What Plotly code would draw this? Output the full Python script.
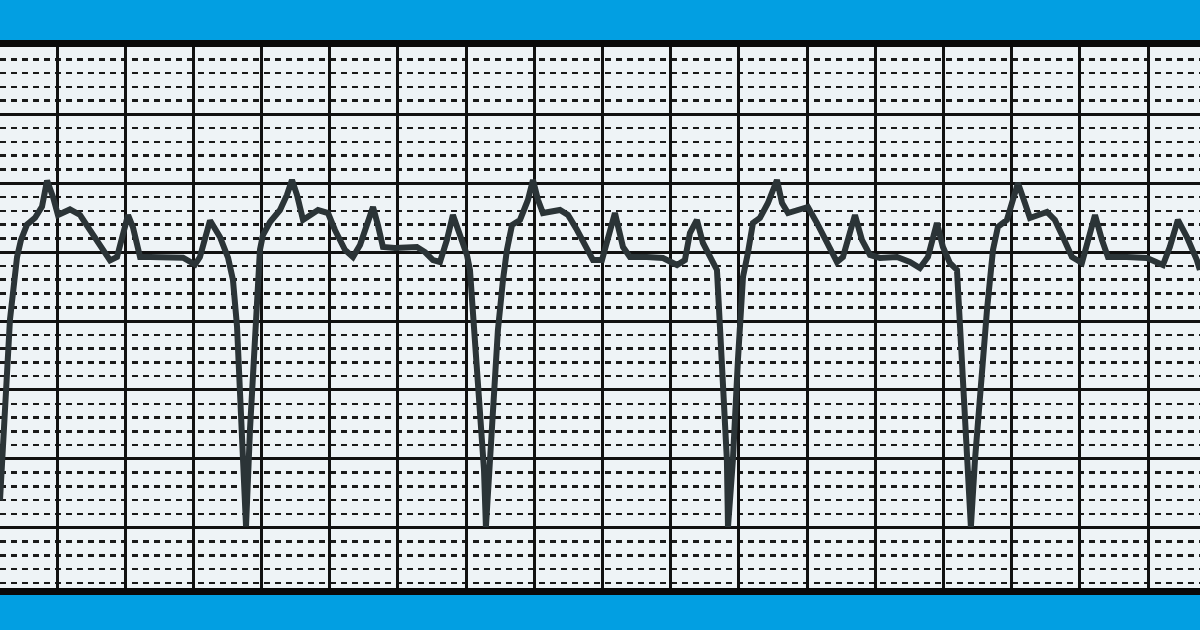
import plotly.graph_objects as go

# ECG strip trace, in grid millimetres (1 small box = 1 mm, 1 large box = 5 mm)
t_mm = [
    0.82, 0.97, 1.19, 1.55, 2.07, 2.36, 2.80, 3.39, 3.90, 4.27, 4.71, 5.07, 5.95, 6.69, 7.42, 8.15,
    8.89, 9.40, 9.84, 10.21, 10.57, 11.09, 11.82, 13.06, 14.24, 15.12, 15.48, 16.22, 16.95, 17.54,
    17.90, 18.20, 18.42, 18.64, 18.86,
    19.15, 19.52, 19.88, 20.10, 20.62, 21.35, 21.86, 22.23, 22.60, 23.04, 23.55, 24.14, 24.87, 25.38,
    26.12, 26.70, 27.22, 27.73, 28.17, 28.53, 28.90, 29.78, 30.51, 31.39, 31.98, 32.57, 33.08, 33.59,
    34.03, 34.55, 35.06, 35.28, 35.43, 35.72, 36.01, 36.31, 36.45,
    36.75, 37.04, 37.33, 37.70, 37.99, 38.36, 38.95, 39.53, 39.90, 40.27, 40.63, 41.88, 42.47, 43.13,
    43.86, 44.30, 44.96, 45.33, 45.91, 46.50, 47.01, 48.26, 49.43, 50.46, 51.04, 51.41, 51.92, 52.36,
    53.02, 53.39, 53.61, 53.83, 54.12, 54.20,
    54.56, 54.93, 55.30, 55.66, 56.03, 56.54, 57.13, 57.79, 58.16, 58.60, 60.06, 60.72, 61.46, 62.19,
    62.63, 63.14, 63.51, 64.02, 64.61, 65.34, 66.59, 67.54, 68.27, 68.86, 69.52, 69.96, 70.47, 70.99,
    71.21, 71.43, 71.79, 72.01,
    72.31, 72.67, 73.19, 73.63, 73.99, 74.65, 75.09, 75.46, 75.97, 76.34, 77.59, 78.17, 78.76, 79.42,
    80.15, 80.59, 81.11, 81.62, 82.06, 83.45, 84.92, 86.09, 86.60, 87.19, 87.85, 88.58, 88.80,
]
v_mm = [
    7.0, 9.9, 14.8, 20.1, 24.65, 25.9, 27.0, 27.5, 28.3, 30.2, 29.0, 27.7, 28.1, 27.7, 26.6, 25.5,
    24.4, 24.65, 26.4, 27.7, 26.8, 24.65, 24.65, 24.65, 24.6, 24.1, 24.65, 27.3, 26.1, 24.6,
    23.0, 19.6, 14.8, 9.9, 5.1,
    12.1, 19.35, 25.16, 26.25, 27.19, 28.06, 29.15, 30.24, 29.15, 27.34, 27.70, 28.06, 27.84, 26.61,
    25.16, 24.65, 25.52, 26.97, 28.28, 26.97, 25.38, 25.30, 25.30, 25.38, 25.01, 24.43, 24.29, 25.89,
    27.70, 26.25, 24.80, 23.71, 21.53, 17.90, 14.27, 9.19, 5.06,
    9.92, 14.78, 19.35, 22.98, 25.16, 26.97, 27.34, 28.79, 30.24, 28.79, 27.84, 28.06, 27.70, 26.61,
    25.38, 24.43, 24.43, 25.67, 27.84, 25.38, 24.65, 24.65, 24.58, 24.07, 24.43, 26.39, 27.34, 25.67,
    24.43, 23.71, 19.57, 14.78, 9.92, 5.06,
    9.92, 17.18, 23.20, 24.94, 27.12, 27.48, 28.57, 30.24, 28.57, 27.84, 28.28, 27.12, 25.67, 24.29,
    24.65, 26.39, 27.70, 25.89, 24.80, 24.58, 24.65, 24.29, 23.85, 24.65, 27.12, 25.38, 24.22, 23.71,
    19.57, 14.78, 9.92, 5.06,
    9.92, 14.78, 20.81, 25.16, 26.83, 27.34, 28.79, 30.02, 28.57, 27.48, 27.92, 27.34, 26.10, 24.65,
    24.22, 25.67, 27.70, 25.89, 24.65, 24.65, 24.58, 24.07, 25.38, 27.34, 26.10, 24.43, 23.71,
]

BLUE = "#029fe2"
PAPER = "#eef3f6"
INK = "#2b3437"

fig = go.Figure()
fig.add_trace(go.Scatter(
    x=t_mm, y=v_mm, mode="lines",
    line=dict(color=INK, width=6, shape="linear"),
    hoverinfo="skip", showlegend=False,
))

fig.update_layout(
    width=1200, height=630,
    margin=dict(l=0, r=0, t=47, b=42),
    paper_bgcolor=BLUE,
    plot_bgcolor=PAPER,
    xaxis=dict(
        range=[0.82, 88.81], tick0=0, dtick=5,
        showgrid=True, gridcolor="#111111", gridwidth=3,
        showticklabels=False, ticks="", zeroline=False,
        showline=True, mirror=True, linecolor="#0a0a0a", linewidth=7,
    ),
    yaxis=dict(
        range=[0.63, 39.89], tick0=0, dtick=5,
        showgrid=True, gridcolor="#111111", gridwidth=3,
        showticklabels=False, ticks="", zeroline=False, showline=False,
        minor=dict(dtick=1, showgrid=True, gridcolor="#1a1a1a", gridwidth=2.5,
                   griddash="6px,5px"),
    ),
)

fig.write_html(
    "out.html",
    config={"displayModeBar": False, "staticPlot": True},
    post_script="document.body.style.margin='0';document.body.style.background='#029fe2';",
)
